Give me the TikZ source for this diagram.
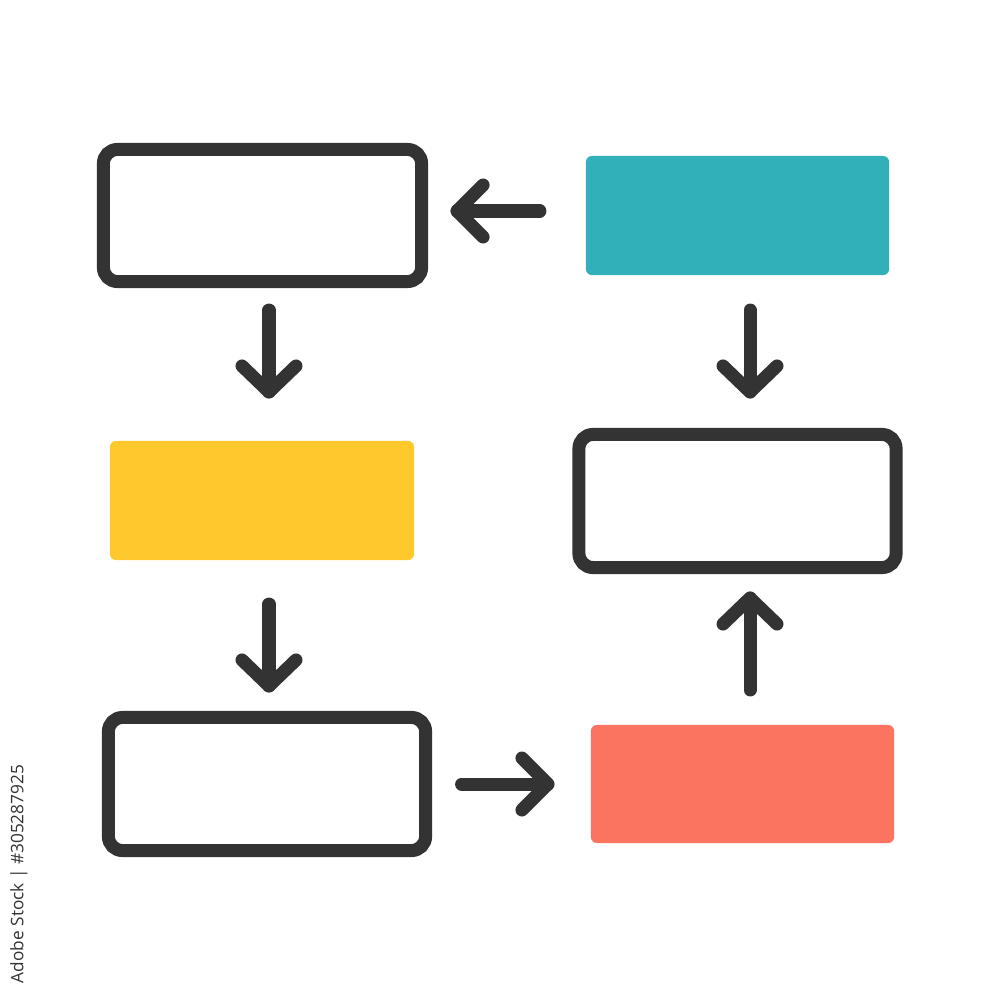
\documentclass[tikz,border=0pt]{standalone}
\usepackage{fontspec}
\newfontfamily\wmfont{Open Sans}
\usetikzlibrary{calc}
\definecolor{ink}{HTML}{333333}
\definecolor{tealc}{HTML}{31B0B9}
\definecolor{yellowc}{HTML}{FFC92E}
\definecolor{redc}{HTML}{FA745F}
\tikzset{
  outlinebox/.style={draw=ink, line width=3.7pt, rounded corners=0.14cm, fill=white,
    minimum width=3.17cm, minimum height=1.33cm, inner sep=0pt, outer sep=0pt},
  solidbox/.style={rounded corners=0.06cm, minimum width=3.03cm, minimum height=1.19cm,
    inner sep=0pt, outer sep=0pt},
  arrline/.style={draw=ink, line width=3.7pt, line cap=round, line join=round}
}
\begin{document}
\begin{tikzpicture}[x=0.01cm, y=-0.01cm]
\useasboundingbox (0,0) rectangle (1000,1000);
\fill[white] (0,0) rectangle (1000,1000);
% boxes
\node[outlinebox, minimum width=3.18cm, minimum height=1.32cm] (b1) at (262.5,215.5) {};
\node[solidbox, fill=tealc] (teal) at (737.5,215.5) {};
\node[solidbox, fill=yellowc, minimum width=3.04cm] (yel) at (262,500.5) {};
\node[outlinebox] (b2) at (737.5,501) {};
\node[outlinebox] (b3) at (267,784) {};
\node[solidbox, fill=redc, minimum height=1.18cm] (red) at (742.5,784) {};
% arrow teal -> b1 (left)
\coordinate (a1s) at ($(teal.west)+(-46,-4.5)$);
\coordinate (a1e) at ($(b1.east)+(35.5,-4.5)$);
\draw[arrline] (a1s) -- (a1e);
\draw[arrline] ($(a1e)+(26,-26)$) -- (a1e) -- ($(a1e)+(26,26)$);
% arrow b1 -> yellow (down)
\coordinate (a2s) at ($(b1.south)+(6.5,28.5)$);
\coordinate (a2e) at ($(yel.north)+(7,-49)$);
\draw[arrline] (a2s) -- (a2e);
\draw[arrline] ($(a2e)+(-27,-26)$) -- (a2e) -- ($(a2e)+(27,-26)$);
% arrow yellow -> b3 (down)
\coordinate (a3s) at ($(yel.south)+(7,44)$);
\coordinate (a3e) at ($(b3.north)+(2,-31.5)$);
\draw[arrline] (a3s) -- (a3e);
\draw[arrline] ($(a3e)+(-27,-26)$) -- (a3e) -- ($(a3e)+(27,-26)$);
% arrow teal -> b2 (down)
\coordinate (a4s) at ($(teal.south)+(12.5,35)$);
\coordinate (a4e) at ($(b2.north)+(12.5,-42.5)$);
\draw[arrline] (a4s) -- (a4e);
\draw[arrline] ($(a4e)+(-27,-26)$) -- (a4e) -- ($(a4e)+(27,-26)$);
% arrow red -> b2 (up)
\coordinate (a5s) at ($(red.north)+(7.5,-35)$);
\coordinate (a5e) at ($(b2.south)+(12.5,30.5)$);
\draw[arrline] (a5s) -- (a5e);
\draw[arrline] ($(a5e)+(-27,26)$) -- (a5e) -- ($(a5e)+(27,26)$);
% arrow b3 -> red (right)
\coordinate (a6s) at ($(b3.east)+(36,0)$);
\coordinate (a6e) at ($(red.west)+(-43,0)$);
\draw[arrline] (a6s) -- (a6e);
\draw[arrline] ($(a6e)+(-26,-26)$) -- (a6e) -- ($(a6e)+(-26,26)$);
% watermark id text
\node[rotate=90, text=ink, inner sep=0pt, font=\wmfont\fontsize{4.9}{6}\selectfont] (wm) at (19,874) {Adobe Stock | \#305287925};
\end{tikzpicture}
\end{document}
